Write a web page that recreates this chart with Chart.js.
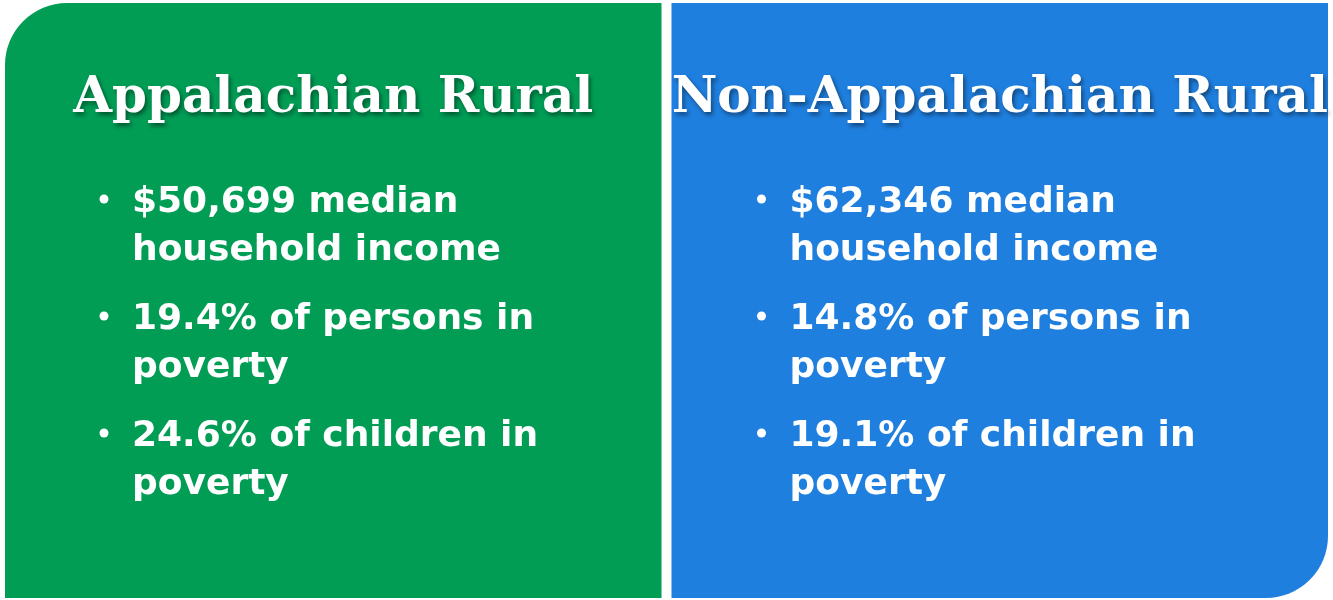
<!DOCTYPE html>
<html><head><meta charset="utf-8">
<script src="https://cdn.jsdelivr.net/npm/chart.js@4"></script>
<style>html,body{margin:0;padding:0;background:#fff}#wrap{width:1333px;height:600px}</style>
</head><body><div id="wrap"><canvas id="c"></canvas></div>
<script>
const categories = ["Appalachian Rural", "Non-Appalachian Rural"];
const panelValues = [1, 1];
const panelColors = ["#019d55", "#1f7fdf"];
const incomes = ["$50,699", "$62,346"];
const povertyPersons = ["19.4%", "14.8%"];
const povertyChildren = ["24.6%", "19.1%"];

const textPlugin = {
  id: 'panelText',
  afterDatasetsDraw(chart) {
    const ctx = chart.ctx;
    const meta = chart.getDatasetMeta(0);
    meta.data.forEach((bar, i) => {
      const left = bar.x - bar.width / 2;
      ctx.save();
      ctx.fillStyle = '#fff';
      ctx.textBaseline = 'alphabetic';
      ctx.shadowColor = 'rgba(0,0,0,0.45)';
      ctx.shadowOffsetX = 2; ctx.shadowOffsetY = 3; ctx.shadowBlur = 4;
      ctx.font = '600 50px "DejaVu Serif", "Liberation Serif", serif';
      ctx.textAlign = 'center';
      ctx.fillText(categories[i], bar.x, 112);
      ctx.shadowColor = 'transparent';
      ctx.textAlign = 'left';
      ctx.font = 'bold 36px "DejaVu Sans", sans-serif';
      const tx = left + (i === 0 ? 127 : 118);
      const lines = [
        [incomes[i] + " median", 212, true],
        ["household income", 260, false],
        [povertyPersons[i] + " of persons in", 329, true],
        ["poverty", 377, false],
        [povertyChildren[i] + " of children in", 446, true],
        ["poverty", 494, false]
      ];
      lines.forEach(([t, y, b]) => {
        ctx.fillText(t, tx, y);
        if (b) { ctx.beginPath(); ctx.arc(tx - 28, y - 13, 4.5, 0, Math.PI * 2); ctx.fill(); }
      });
      ctx.restore();
    });
  }
};

new Chart(document.getElementById('c'), {
  type: 'bar',
  data: { labels: categories, datasets: [{
    data: panelValues,
    backgroundColor: panelColors,
    borderSkipped: false,
    borderRadius: (c) => c.dataIndex === 0 ? {topLeft: 62, topRight: 0, bottomLeft: 0, bottomRight: 0} : {topLeft: 0, topRight: 0, bottomLeft: 0, bottomRight: 62},
    barPercentage: 0.985, categoryPercentage: 1
  }]},
  options: {
    responsive: true, maintainAspectRatio: false, animation: false,
    layout: { padding: { left: 0, right: 0, top: 3, bottom: 2 } },
    plugins: { legend: { display: false }, tooltip: { enabled: false } },
    scales: { x: { display: false }, y: { display: false, min: 0, max: 1 } }
  },
  plugins: [textPlugin]
});
</script></body></html>
